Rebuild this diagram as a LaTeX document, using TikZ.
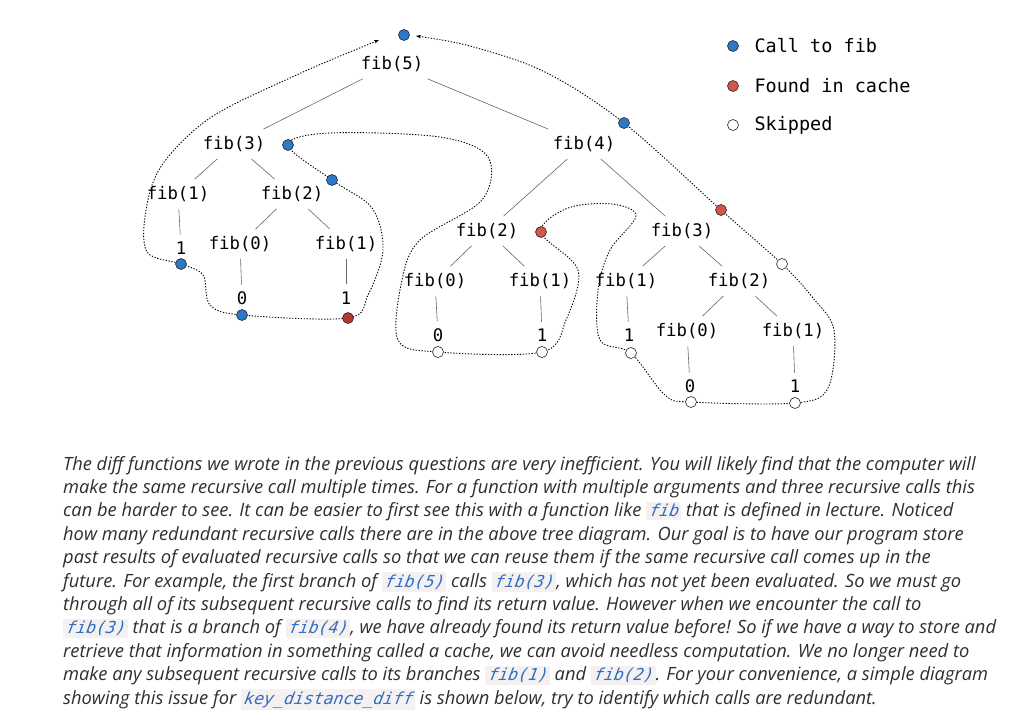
\documentclass[tikz,border=0pt]{standalone}
\usepackage{fontspec}
\setmainfont{Open Sans}
\newfontfamily\treefont{DejaVu Sans Mono}
\newfontfamily\codefont{DejaVu Sans Mono}[FakeSlant=0.18]
\usetikzlibrary{arrows.meta}
\definecolor{dotblue}{HTML}{2E78C8}
\definecolor{dotred}{HTML}{D2564A}
\definecolor{dkred}{HTML}{B2392B}
\definecolor{codebg}{HTML}{F6F1F1}
\definecolor{codeblue}{HTML}{2F6FC2}
\definecolor{txt}{HTML}{2E2E2E}
\newcommand{\cd}[1]{{\setlength{\fboxsep}{2.5pt}\colorbox{codebg}{\textcolor{codeblue}{\codefont\fontsize{16.5}{16}\selectfont #1}}}}
\begin{document}
\begin{tikzpicture}[x=1pt,y=-1pt,
  fn/.style={font=\treefont\fontsize{17.3}{18}\selectfont, inner sep=7pt},
  ed/.style={gray!80!black, line width=0.6pt},
  dot/.style={circle, draw=black!85, line width=0.6pt, minimum size=11pt, inner sep=0pt},
  call/.style={dot, fill=dotblue},
  hit/.style={dot, fill=dotred},
  hit2/.style={dot, fill=dkred},
  skip/.style={dot, fill=white},
  tl/.style={anchor=base west, inner sep=0pt, font=\itshape\fontsize{18.3}{20}\selectfont, text=txt},
  lg/.style={anchor=west, font=\treefont\fontsize{18.5}{20}\selectfont}]
\useasboundingbox (0,0) rectangle (1024,715);
% tree
\node[fn] (f5) at (392,64) {fib(5)};
\node[fn] (a3) at (234,144) {fib(3)};
\node[fn] (b4) at (584,144) {fib(4)};
\node[fn] (a1) at (178,194) {fib(1)};
\node[fn] (a2) at (292,194) {fib(2)};
\node[fn] (a1v) at (181,248) {1};
\node[fn] (a20) at (240,244) {fib(0)};
\node[fn] (a21) at (346,244) {fib(1)};
\node[fn] (a20v) at (242,298) {0};
\node[fn] (a21v) at (346,298) {1};
\node[fn] (b2) at (487,231) {fib(2)};
\node[fn] (b3) at (682,231) {fib(3)};
\node[fn] (b20) at (435,281) {fib(0)};
\node[fn] (b21) at (540,281) {fib(1)};
\node[fn] (b20v) at (438,335) {0};
\node[fn] (b21v) at (542,335) {1};
\node[fn] (b31) at (626,281) {fib(1)};
\node[fn] (b32) at (739,281) {fib(2)};
\node[fn] (b31v) at (629,335) {1};
\node[fn] (b320) at (687,331) {fib(0)};
\node[fn] (b321) at (793,331) {fib(1)};
\node[fn] (b320v) at (690,386) {0};
\node[fn] (b321v) at (795,386) {1};
\foreach \p/\c in {f5/a3,f5/b4,a3/a1,a3/a2,a1/a1v,a2/a20,a2/a21,a20/a20v,a21/a21v,
  b4/b2,b4/b3,b2/b20,b2/b21,b20/b20v,b21/b21v,b3/b31,b3/b32,b31/b31v,b32/b320,b32/b321,b320/b320v,b321/b321v}
  \draw[ed] (\p) -- (\c);
% traversal path
\draw[dash pattern=on 1.3pt off 1.6pt, line width=0.9pt, {Stealth[length=5pt,width=3.5pt]}-{Stealth[length=5pt,width=3.5pt]}]
 plot[smooth, tension=0.55] coordinates {(379,40) (290,78) (210,118) (162,165) (146,210) (147,252) (181,264)
 (203,275) (210,305) (242,315) (348,318) (368,295) (383,250) (372,208) (332,180) (288,145)
 (330,133) (440,137) (488,157) (482,200) (420,240) (402,280) (398,340) (438,352) (542,352)
 (566,320) (578,270) (541,232) (568,208) (612,204) (636,216) (610,250) (598,290) (600,340) (631,353)
 (665,395) (691,402) (795,403) (828,388) (834,330) (813,298) (782,264) (721,210) (624,123)
 (545,72) (470,46) (416,36)};
\node[call] (top) at (404,35) {};
\node[call] (d1) at (181,264) {};
\node[call] (d2) at (242,315) {};
\node[hit2] (d3) at (348,318) {};
\node[call] (d4) at (332,180) {};
\node[call] (d5) at (288,145) {};
\node[skip] (d6) at (438,352) {};
\node[skip] (d7) at (542,352) {};
\node[hit] (d8) at (541,232) {};
\node[skip] (d9) at (631,353) {};
\node[skip] (d10) at (691,402) {};
\node[skip] (d11) at (795,403) {};
\node[skip] (d12) at (782,264) {};
\node[hit] (d13) at (721,210) {};
\node[call] (d14) at (624,123) {};
% legend
\node[call] (l1) at (733,46) {};
\node[hit] (l2) at (733,86) {};
\node[skip] (l3) at (733,125) {};
\node[lg] (t1) at (751,46) {Call to fib};
\node[lg] (t2) at (751,86) {Found in cache};
\node[lg] (t3) at (751,125) {Skipped};
% paragraph
\node[tl] (p1) at (63,470) {The diff functions we wrote in the previous questions are very inefficient. You will likely find that the computer will};
\node[tl] (p2) at (63,493.4) {make the same recursive call multiple times. For a function with multiple arguments and three recursive calls this};
\node[tl] (p3) at (63,516.8) {can be harder to see. It can be easier to first see this with a function like \cd{fib} that is defined in lecture. Noticed};
\node[tl] (p4) at (63,540.2) {how many redundant recursive calls there are in the above tree diagram. Our goal is to have our program store};
\node[tl] (p5) at (63,563.6) {past results of evaluated recursive calls so that we can reuse them if the same recursive call comes up in the};
\node[tl] (p6) at (63,587) {future. For example, the first branch of \cd{fib(5)} calls \cd{fib(3)}, which has not yet been evaluated. So we must go};
\node[tl] (p7) at (63,610.4) {through all of its subsequent recursive calls to find its return value. However when we encounter the call to};
\node[tl] (p8) at (63,633.8) {\cd{fib(3)} that is a branch of \cd{fib(4)}, we have already found its return value before! So if we have a way to store and};
\node[tl] (p9) at (63,657.2) {retrieve that information in something called a cache, we can avoid needless computation. We no longer need to};
\node[tl] (p10) at (63,680.6) {make any subsequent recursive calls to its branches \cd{fib(1)} and \cd{fib(2)}. For your convenience, a simple diagram};
\node[tl] (p11) at (63,704) {showing this issue for \cd{key\_distance\_diff} is shown below, try to identify which calls are redundant.};
\end{tikzpicture}
\end{document}
